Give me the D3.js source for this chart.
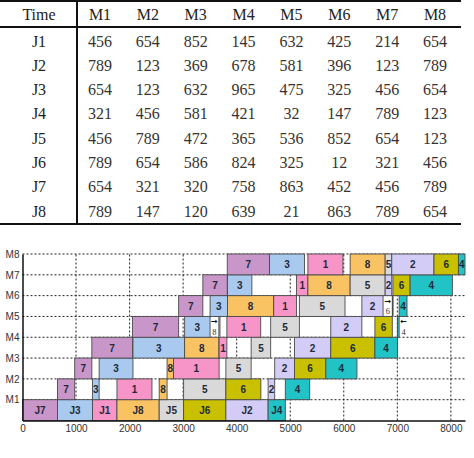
<!DOCTYPE html>
<html>
<head>
<meta charset="utf-8">
<script src="https://cdn.jsdelivr.net/npm/d3@7"></script>
<style>
  html, body { margin: 0; padding: 0; background: #fff; }
  svg { display: block; }
</style>
</head>
<body>
<svg id="chart" width="474" height="458"></svg>
<script>
// ---------- Data ----------
const machines = ["M1", "M2", "M3", "M4", "M5", "M6", "M7", "M8"];
const jobs = ["J1", "J2", "J3", "J4", "J5", "J6", "J7", "J8"];
// processing times (rows = jobs, columns = machines)
const timesJ1 = [456, 654, 852, 145, 632, 425, 214, 654];
const timesJ2 = [789, 123, 369, 678, 581, 396, 123, 789];
const timesJ3 = [654, 123, 632, 965, 475, 325, 456, 654];
const timesJ4 = [321, 456, 581, 421, 32, 147, 789, 123];
const timesJ5 = [456, 789, 472, 365, 536, 852, 654, 123];
const timesJ6 = [789, 654, 586, 824, 325, 12, 321, 456];
const timesJ7 = [654, 321, 320, 758, 863, 452, 456, 789];
const timesJ8 = [789, 147, 120, 639, 21, 863, 789, 654];
const times = [timesJ1, timesJ2, timesJ3, timesJ4, timesJ5, timesJ6, timesJ7, timesJ8];

// job sequence on each machine and start times
const seqM1 = [7, 3, 1, 8, 5, 6, 2, 4];
const startM1 = [0, 654, 1308, 1764, 2553, 3009, 3798, 4587];
const seqM2 = [7, 3, 1, 8, 5, 6, 2, 4];
const startM2 = [654, 1308, 1764, 2553, 3009, 3798, 4587, 4908];
const seqM3 = [7, 3, 8, 1, 5, 2, 6, 4];
const startM3 = [975, 1431, 2700, 2820, 3798, 4710, 5079, 5665];
const seqM4 = [7, 3, 8, 1, 5, 2, 6, 4];
const startM4 = [1295, 2063, 3028, 3672, 4270, 5079, 5757, 6581];
const seqM5 = [7, 3, 8, 1, 5, 2, 6, 4];
const startM5 = [2053, 3028, 3667, 3817, 4635, 5757, 6581, 7002];
const seqM6 = [7, 3, 8, 1, 5, 2, 6, 4];
const startM6 = [2916, 3503, 3828, 4691, 5171, 6338, 6906, 7034];
const seqM7 = [7, 3, 1, 8, 5, 2, 6, 4];
const startM7 = [3368, 3828, 5116, 5330, 6119, 6773, 6918, 7239];
const seqM8 = [7, 3, 1, 8, 5, 2, 6, 4];
const startM8 = [3824, 4613, 5330, 6119, 6773, 6896, 7685, 8141];
const sequences = [seqM1, seqM2, seqM3, seqM4, seqM5, seqM6, seqM7, seqM8];
const starts = [startM1, startM2, startM3, startM4, startM5, startM6, startM7, startM8];

// arrow annotations: [machine, job, arrow, side]
const arrowNotes = [["M5", 8, "\u2192", "left"], ["M6", 6, "\u2192", "left"], ["M5", 4, "\u2190", "right"]];

const xTicks = [0, 1000, 2000, 3000, 4000, 5000, 6000, 7000, 8000];
const makespan = 8264;

const jobColors = {
  1: "#f794c8", 2: "#d2ccf6", 3: "#a9c9ef", 4: "#22c3c6",
  5: "#d9d9d9", 6: "#c9c100", 7: "#c996c9", 8: "#f9c363"
};

// ---------- Build ----------
const svg = d3.select("#chart");

// ===== Table =====
const table = svg.append("g");
const colX = d3.scalePoint().domain(machines).range([100, 435]);
const timeColX = 39;
const rowY = d3.scalePoint().domain(jobs).range([41, 211]);
const serif = "'Liberation Serif', 'Times New Roman', serif";

[1, 27, 224].forEach(yy => {
  table.append("line").attr("x1", 0).attr("x2", 461).attr("y1", yy).attr("y2", yy)
    .attr("stroke", "#111").attr("stroke-width", 2);
});
table.append("line").attr("x1", 77).attr("x2", 77).attr("y1", 0).attr("y2", 225)
  .attr("stroke", "#111").attr("stroke-width", 2);

function cell(xx, yy, txt, color) {
  table.append("text")
    .attr("x", xx).attr("y", yy)
    .attr("text-anchor", "middle").attr("dominant-baseline", "central")
    .style("font-family", serif).style("font-size", "16px").attr("fill", color)
    .text(txt);
}
cell(timeColX, 14, "Time", "#222");
machines.forEach(m => cell(colX(m), 14, m, "#222"));
jobs.forEach((j, ji) => {
  cell(timeColX, rowY(j), j, "#222");
  machines.forEach((m, mi) => cell(colX(m), rowY(j), times[ji][mi], "#333"));
});

// ===== Gantt =====
const sans = "'Liberation Sans', Arial, sans-serif";
const x = d3.scaleLinear().domain([0, makespan]).range([22.5, 465]);
const y = d3.scaleLinear().domain([0, 8]).range([420.5, 254]);

const g = svg.append("g");

// grid lines
const grid = g.append("g");
machines.forEach((m, i) => {
  grid.append("line")
    .attr("x1", x(0)).attr("x2", x(makespan))
    .attr("y1", y(i + 1)).attr("y2", y(i + 1))
    .attr("stroke", "#222").attr("stroke-width", 1).attr("stroke-dasharray", "2,2");
});
xTicks.filter(t => t > 0).forEach(t => {
  grid.append("line")
    .attr("x1", x(t)).attr("x2", x(t))
    .attr("y1", y(0)).attr("y2", y(8))
    .attr("stroke", "#222").attr("stroke-width", 1).attr("stroke-dasharray", "2,2");
});

// bars
const bars = [];
machines.forEach((m, mi) => {
  sequences[mi].forEach((job, k) => {
    bars.push({ m: m, mi: mi, job: job, start: starts[mi][k], dur: times[job - 1][mi] });
  });
});

const barG = g.append("g");
barG.selectAll("rect").data(bars).enter().append("rect")
  .attr("x", d => x(d.start))
  .attr("width", d => Math.max(x(d.start + d.dur) - x(d.start), 0.8))
  .attr("y", d => y(d.mi + 1))
  .attr("height", d => y(d.mi) - y(d.mi + 1))
  .attr("fill", d => jobColors[d.job])
  .attr("stroke", "#4a4a4a").attr("stroke-width", 0.9);

const isNoted = d => arrowNotes.some(n => n[0] === d.m && n[1] === d.job);

barG.selectAll("text.lbl").data(bars.filter(d => !isNoted(d))).enter().append("text")
  .attr("class", "lbl")
  .attr("x", d => x(d.start + d.dur / 2))
  .attr("y", d => (y(d.mi) + y(d.mi + 1)) / 2 + 0.5)
  .attr("text-anchor", "middle").attr("dominant-baseline", "central")
  .style("font-family", sans).style("font-size", "10px").style("font-weight", "bold")
  .attr("fill", "#1e2a3a")
  .text(d => d.mi === 0 ? "J" + d.job : d.job);

// arrow annotations
arrowNotes.forEach(n => {
  const d = bars.find(b => b.m === n[0] && b.job === n[1]);
  const cx = n[3] === "left" ? x(d.start) - 4.5 : x(d.start + d.dur) + 4.5;
  const cy = (y(d.mi) + y(d.mi + 1)) / 2;
  barG.append("text")
    .attr("x", cx).attr("y", cy - 5)
    .attr("text-anchor", "middle").attr("dominant-baseline", "central")
    .style("font-family", "'DejaVu Sans', sans-serif").style("font-size", "8px").style("font-weight", "bold")
    .attr("fill", "#111").text(n[2]);
  barG.append("text")
    .attr("x", cx).attr("y", cy + 4.8)
    .attr("text-anchor", "middle").attr("dominant-baseline", "central")
    .style("font-family", serif).style("font-size", "8.5px")
    .attr("fill", "#333").text(n[1]);
});

// axes
const xAxis = g.append("g").attr("transform", `translate(0,${y(0)})`)
  .call(d3.axisBottom(x).tickValues(xTicks).tickFormat(d3.format("d")).tickSize(0).tickPadding(4));
xAxis.select(".domain").attr("stroke", "#111").attr("stroke-width", 1.5);
xAxis.selectAll("text").style("font-family", sans).style("font-size", "10px").attr("fill", "#333");

const yAxis = g.append("g").attr("transform", `translate(${x(0)},0)`)
  .call(d3.axisLeft(y).tickValues([1, 2, 3, 4, 5, 6, 7, 8]).tickFormat(i => machines[i - 1]).tickSize(0).tickPadding(3));
yAxis.select(".domain").attr("stroke", "#111").attr("stroke-width", 1.5);
yAxis.selectAll("text").style("font-family", sans).style("font-size", "10px").attr("fill", "#333");
</script>
</body>
</html>
